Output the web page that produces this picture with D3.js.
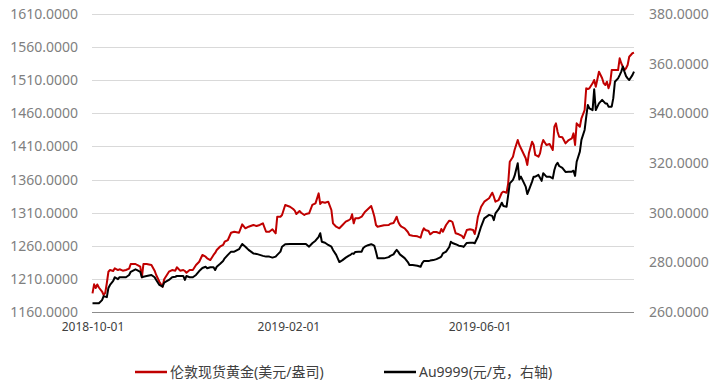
<!DOCTYPE html>
<html>
<head>
<meta charset="utf-8">
<script src="https://cdnjs.cloudflare.com/ajax/libs/d3/7.8.5/d3.min.js"></script>
<style>
  body { margin: 0; background: #fff; }
  .chart text { font-family: "Noto Sans", "Noto Sans CJK SC", sans-serif; }
</style>
</head>
<body>
<div class="chart"></div>
<script>
// dates of the sampled points
var dates = [
  "2018-10-01","2018-10-02","2018-10-03","2018-10-04","2018-10-05","2018-10-07","2018-10-08","2018-10-09","2018-10-10","2018-10-11",
  "2018-10-12","2018-10-14","2018-10-15","2018-10-17","2018-10-18","2018-10-20","2018-10-22","2018-10-24","2018-10-25","2018-10-28",
  "2018-10-29","2018-10-31","2018-11-01","2018-11-02","2018-11-04","2018-11-07","2018-11-09","2018-11-10","2018-11-12","2018-11-14",
  "2018-11-15","2018-11-18","2018-11-20","2018-11-22","2018-11-23","2018-11-25","2018-11-27","2018-11-28","2018-11-29","2018-12-01",
  "2018-12-03","2018-12-05","2018-12-07","2018-12-09","2018-12-11","2018-12-12","2018-12-14","2018-12-16","2018-12-17","2018-12-18",
  "2018-12-20","2018-12-22","2018-12-23","2018-12-25","2018-12-27","2018-12-29","2019-01-01","2019-01-03","2019-01-05","2019-01-07",
  "2019-01-10","2019-01-12","2019-01-14","2019-01-16","2019-01-18","2019-01-20","2019-01-22","2019-01-24","2019-01-25","2019-01-27",
  "2019-01-28","2019-01-30","2019-02-02","2019-02-04","2019-02-05","2019-02-06","2019-02-08","2019-02-09","2019-02-11","2019-02-12",
  "2019-02-14","2019-02-16","2019-02-18","2019-02-20","2019-02-21","2019-02-22","2019-02-24","2019-02-26","2019-02-28","2019-03-01",
  "2019-03-03","2019-03-05","2019-03-07","2019-03-09","2019-03-11","2019-03-12","2019-03-13","2019-03-14","2019-03-15","2019-03-17",
  "2019-03-19","2019-03-20","2019-03-21","2019-03-23","2019-03-25","2019-03-26","2019-03-27","2019-03-28","2019-03-29","2019-03-31",
  "2019-04-02","2019-04-05","2019-04-06","2019-04-08","2019-04-09","2019-04-10","2019-04-11","2019-04-12","2019-04-13","2019-04-15",
  "2019-04-17","2019-04-18","2019-04-20","2019-04-23","2019-04-25","2019-04-26","2019-04-27","2019-04-28","2019-04-30","2019-05-01",
  "2019-05-03","2019-05-05","2019-05-07","2019-05-08","2019-05-09","2019-05-11","2019-05-13","2019-05-14","2019-05-15","2019-05-17",
  "2019-05-19","2019-05-21","2019-05-22","2019-05-24","2019-05-26","2019-05-28","2019-05-29","2019-05-30","2019-05-31","2019-06-02",
  "2019-06-04","2019-06-07","2019-06-09","2019-06-10","2019-06-11","2019-06-13","2019-06-15","2019-06-16","2019-06-18","2019-06-19",
  "2019-06-20","2019-06-22","2019-06-23","2019-06-25","2019-06-26","2019-06-27","2019-06-30","2019-07-01","2019-07-02","2019-07-04",
  "2019-07-05","2019-07-06","2019-07-08","2019-07-09","2019-07-10","2019-07-11","2019-07-13","2019-07-15","2019-07-17","2019-07-18",
  "2019-07-19","2019-07-20","2019-07-21","2019-07-23","2019-07-25","2019-07-27","2019-07-29","2019-07-30","2019-07-31","2019-08-01",
  "2019-08-03","2019-08-04","2019-08-06","2019-08-07","2019-08-08","2019-08-09","2019-08-11","2019-08-12","2019-08-13","2019-08-15",
  "2019-08-17","2019-08-18","2019-08-19","2019-08-20","2019-08-21","2019-08-22","2019-08-23","2019-08-24","2019-08-25","2019-08-27",
  "2019-08-28","2019-08-29","2019-08-30","2019-08-31","2019-09-01","2019-09-02","2019-09-03","2019-09-05","2019-09-06"];

// London spot gold, USD/oz (left axis)
var londonGold = [
  1188.2,1201.8,1196.2,1201.5,1197,1190.9,1185.7,1188.7,1203.8,1220.8,
  1223.4,1221.9,1226,1223.4,1224.5,1222.4,1223.4,1225.4,1232.5,1232.5,
  1231,1228.4,1212.4,1232.5,1232.5,1231,1222.4,1215.9,1205.7,1198.2,
  1209.4,1220.8,1223.4,1222.4,1227.5,1222.4,1223.4,1221.9,1219.3,1223.4,
  1223.4,1231,1235.9,1246.1,1243.5,1241.1,1238.5,1246.1,1249.1,1253.6,
  1258.6,1261.2,1266.1,1268.7,1279.7,1281.2,1279.7,1292.4,1286.4,1288.8,
  1291.4,1289.9,1291.4,1293.9,1281.2,1281.2,1284.9,1278.8,1303.9,1303.9,
  1306.5,1321.6,1319,1315.5,1313,1308,1312.5,1309.9,1306.5,1308,
  1309,1321.6,1324.1,1339.2,1323.1,1326.1,1325,1326.6,1314,1293.9,
  1288.8,1286.4,1291.4,1296.4,1298.9,1300.4,1307.5,1293.9,1301.5,1301.5,
  1303.9,1307.5,1311,1315.5,1320.1,1312.5,1303.9,1291.4,1288.8,1289.9,
  1290.9,1291.4,1293.3,1294.4,1298.9,1303.9,1295.9,1291.4,1288.8,1286.4,
  1280.8,1276.3,1275.2,1274.3,1272.2,1280.8,1286.4,1283.8,1282.3,1277.3,
  1280.8,1280.8,1278.8,1285.3,1281.2,1291.4,1297.9,1297.4,1295.9,1278.8,
  1277.3,1274.8,1271.3,1283.8,1284.9,1283.8,1277.8,1288.8,1303.9,1319,
  1326.6,1331.7,1340.1,1334.1,1326.6,1329.1,1340.1,1341.7,1340.1,1354.3,
  1387,1394.5,1404.6,1419.7,1412.2,1407.2,1392.1,1382,1399.6,1417.2,
  1412.2,1397.1,1394.5,1399.6,1412.2,1419.7,1412.2,1413.7,1404.6,1439.8,
  1444.9,1432.3,1424.7,1423.8,1414.7,1419.7,1422.3,1429.8,1412.2,1444.9,
  1439.8,1452.5,1465,1497.8,1496.7,1497.8,1505.3,1510.3,1500.2,1522.9,
  1512.9,1505.3,1502.8,1507.8,1497.8,1505.3,1525.4,1525.4,1525.4,1525.4,
  1543.1,1535.6,1530.4,1525.4,1528,1533,1545.5,1550.7,1551.6];

// Au9999, CNY/g (right axis)
var au9999 = [
  263.5,263.5,263.5,263.5,263.5,264.8,266.4,266.2,266.0,269.7,
  270.9,272.5,274,273.2,274,274,274,274.9,276.2,277.2,
  276.9,276.2,274,274.2,274.5,274.9,274,272.9,270.9,270.2,
  271.8,272.9,274,274.2,274.5,274.5,274.5,272.9,274.5,274,
  274,274.9,276.5,277.7,278.2,277.6,278,278,276.9,278.2,
  279.3,280.5,281.6,283,284.3,284.3,285.3,287.4,286.3,285,
  283.6,283.4,283,282.6,282.3,282.3,281.9,282.3,283,284.3,
  286.3,287.3,287.4,287.4,287.4,287.4,287.4,287.4,287.4,287.4,
  286.3,287.7,288.7,290.3,291.7,288.3,287.9,287,286.3,285,
  283,280.1,280.9,281.9,282.7,283,283.6,283.4,284.2,284.3,
  284.3,285.8,286.3,286.9,287.3,287,286.6,284.3,281.6,281.6,
  281.6,282.1,282.6,283.2,284.2,285,284.2,283.2,282.7,281.7,
  280.1,278.9,278.9,278.6,278.2,279.7,280.5,280.5,280.5,280.7,
  280.9,281.3,281.9,282.3,283.6,284.3,286.2,288.3,287.8,287.3,
  286.7,286.5,286.2,287.8,287.9,287.9,287.7,289,290.3,294.4,
  297.7,299.1,298.7,297,299.7,301.4,304,302.7,302.4,307.1,
  311.8,313.2,314.8,319.9,313.4,314.5,310.5,307.5,309.1,312.5,
  314.5,314.5,315.2,314,312.8,315.9,314.5,314.5,313.8,317.2,
  319.2,320.1,318.8,318,316.4,316.5,316.5,316.9,314.8,320.5,
  324.6,329.3,333.3,338.6,343.4,342,341.3,349.7,341.3,344,
  345.4,344.7,344,344,342.7,342.7,342.7,346.1,352.7,354.1,
  355.4,356.8,358.8,356.8,355,354.1,353.4,355.4,356.8];

// axis ticks
var leftTicks = [1160, 1210, 1260, 1310, 1360, 1410, 1460, 1510, 1560, 1610];
var rightTicks = [260, 280, 300, 320, 340, 360, 380];
var dateTicks = ["2018-10-01", "2019-02-01", "2019-06-01"];

var seriesNames = ["伦敦现货黄金(美元/盎司)", "Au9999(元/克，右轴)"];
var seriesColors = ["#c00000", "#000000"];

var GoldChart = function(){

  return {

    init: function() {

      var width = 716, height = 386;
      var left = 92.5, right = 634, top = 14, bottom = 312;
      var parse = d3.timeParse("%Y-%m-%d");

      var svg = d3.select(".chart").append("svg")
        .attr("width", width)
        .attr("height", height);

      // scales
      var x = d3.scaleTime()
        .domain([parse(dates[0]), parse(dates[dates.length - 1])])
        .range([left, right]);
      var yLeft = d3.scaleLinear().domain([1160, 1610]).range([bottom, top]);
      var yRight = d3.scaleLinear().domain([260, 380]).range([bottom, top]);

      // horizontal grid lines
      svg.append("g")
        .selectAll("line")
        .data(leftTicks.slice(1))
        .enter()
        .append("line")
        .attr("x1", 92)
        .attr("x2", 634)
        .attr("y1", function (d) { return Math.round(yLeft(d)) + 0.5; })
        .attr("y2", function (d) { return Math.round(yLeft(d)) + 0.5; })
        .style("stroke", "#d9d9d9")
        .style("stroke-width", 1);

      // left axis
      var leftAxis = svg.append("g")
        .attr("transform", "translate(" + 84 + ",0)")
        .call(d3.axisLeft(yLeft).tickValues(leftTicks).tickSize(0).tickPadding(6)
          .tickFormat(function (d) { return d3.format(".4f")(d); }));
      leftAxis.select(".domain").remove();

      // right axis
      var rightAxis = svg.append("g")
        .attr("transform", "translate(" + 643 + ",0)")
        .call(d3.axisRight(yRight).tickValues(rightTicks).tickSize(0).tickPadding(6)
          .tickFormat(function (d) { return d3.format(".4f")(d); }));
      rightAxis.select(".domain").remove();

      svg.selectAll(".tick text")
        .style("font-size", "14px")
        .style("fill", "#7f7f7f");

      // bottom axis
      var bottomAxis = svg.append("g")
        .attr("transform", "translate(0," + (bottom + 0.5) + ")")
        .call(d3.axisBottom(x).tickValues(dateTicks.map(parse)).tickSize(0).tickPadding(10)
          .tickFormat(d3.timeFormat("%Y-%m-%d")));
      bottomAxis.select(".domain")
        .attr("d", "M92,0H634")
        .style("stroke", "#8c8c8c");
      bottomAxis.selectAll(".tick text")
        .style("font-size", "12px")
        .style("fill", "#404040");

      // lines
      var lineLeft = d3.line()
        .x(function (d, i) { return x(parse(dates[i])); })
        .y(function (d) { return yLeft(d); });
      var lineRight = d3.line()
        .x(function (d, i) { return x(parse(dates[i])); })
        .y(function (d) { return yRight(d); });

      svg.append("path")
        .datum(londonGold)
        .attr("d", lineLeft)
        .style("fill", "none")
        .style("stroke", seriesColors[0])
        .style("stroke-width", 2)
        .style("stroke-linejoin", "round");

      svg.append("path")
        .datum(au9999)
        .attr("d", lineRight)
        .style("fill", "none")
        .style("stroke", seriesColors[1])
        .style("stroke-width", 2)
        .style("stroke-linejoin", "round");

      // legend
      var legendX = [135, 384];
      var legend = svg.append("g").selectAll("g")
        .data(seriesNames)
        .enter()
        .append("g")
        .attr("transform", function (d, i) { return "translate(" + legendX[i] + ",372)"; });

      legend.append("line")
        .attr("x1", 0)
        .attr("x2", 32)
        .style("stroke", function (d, i) { return seriesColors[i]; })
        .style("stroke-width", 2.5);

      legend.append("text")
        .attr("x", 35)
        .attr("dy", "0.35em")
        .style("font-size", "14px")
        .style("fill", "#404040")
        .text(function (d) { return d; });

    }

  };

}();

GoldChart.init();
</script>
</body>
</html>
